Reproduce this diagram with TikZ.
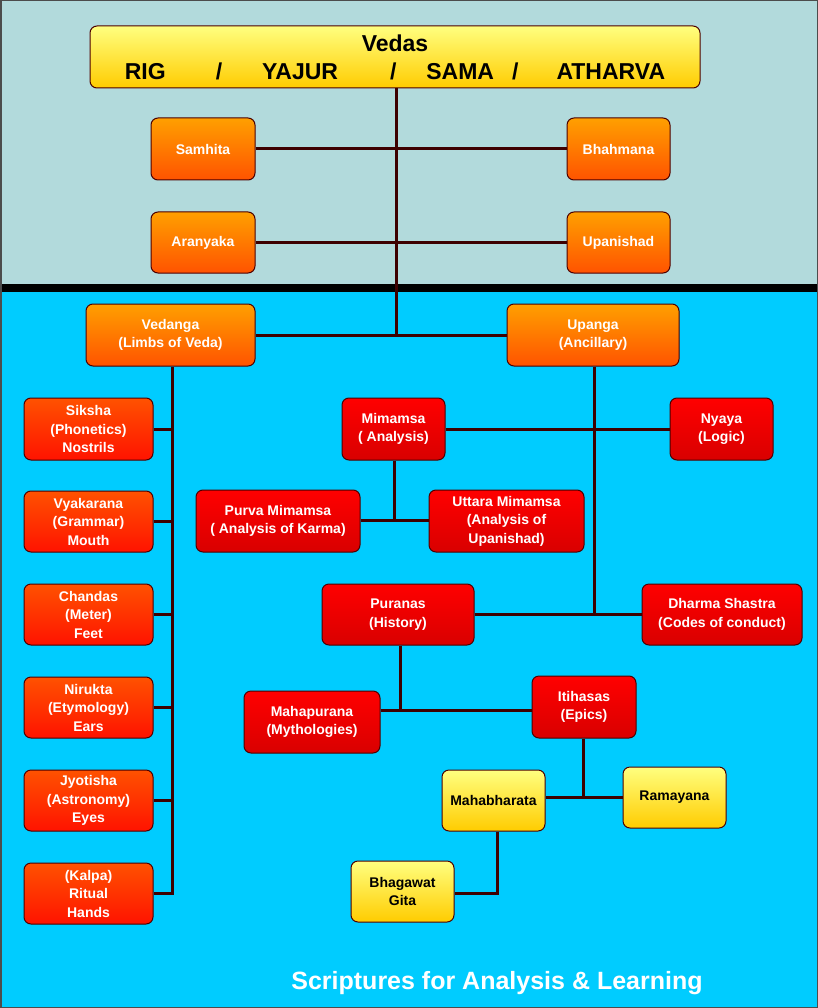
\documentclass[tikz,border=0pt]{standalone}
\usepackage{fontspec}
\setmainfont{Liberation Sans}
\begin{document}
\begin{tikzpicture}[x=1pt,y=-1pt,
  box/.style={draw=black!50!red!60!black, line width=1pt, rounded corners=7pt, align=center, font=\bfseries\fontsize{14}{18.5}\selectfont, inner sep=1pt},
  og/.style={box, top color=orange!75!yellow, bottom color=orange!50!red!90!yellow, text=white},
  rog/.style={box, top color=red!70!orange!80!yellow, bottom color=red!85!orange, text=white},
  rd/.style={box, top color=red, bottom color=red!85!black, text=white},
  yl/.style={box, top color=yellow!50!white, bottom color=yellow!60!orange, text=black},
  ln/.style={draw=black!65!red!70!black, line width=3pt}]
\useasboundingbox (0,0) rectangle (818,1008);
\fill[fill={rgb,255:red,178;green,218;blue,220}] (0,0) rectangle (818,284);
\fill[black] (0,284) rectangle (818,292);
\fill[fill={rgb,255:red,0;green,204;blue,255}] (0,292) rectangle (818,1008);
\draw[black!70, line width=1.5pt] (0.75,0.75) rectangle (817.25,1007.25);
\coordinate (tj) at (396,335);
\coordinate (ua) at (594,614);
\coordinate (mj) at (394,520);
\coordinate (pj) at (400,710);
\coordinate (ej) at (583,797);
\coordinate (gj) at (497,893);
\coordinate (lv) at (172,893);
\node[yl, minimum width=610pt, minimum height=62pt, font=\bfseries\fontsize{23}{28}\selectfont] (vedas) at (395,57) {Vedas\\RIG\hspace{50pt}/\hspace{40pt}YAJUR\hspace{52pt}/\hspace{30pt}SAMA\hspace{18pt}/\hspace{38pt}ATHARVA};
\node[og, minimum width=104pt, minimum height=62pt] (samhita) at (203,149) {Samhita};
\node[og, minimum width=103pt, minimum height=62pt] (bhah) at (618.5,149) {Bhahmana};
\node[og, minimum width=104pt, minimum height=61pt] (aran) at (203,242.5) {Aranyaka};
\node[og, minimum width=103pt, minimum height=61pt] (upan) at (618.5,242.5) {Upanishad};
\node[og, minimum width=169pt, minimum height=62pt] (vedanga) at (170.5,335) {Vedanga\\(Limbs of Veda)};
\node[og, minimum width=172pt, minimum height=62pt] (upanga) at (593,335) {Upanga\\(Ancillary)};
\node[rog, minimum width=129pt, minimum height=62pt] (siksha) at (88.5,429) {Siksha\\(Phonetics)\\Nostrils};
\node[rog, minimum width=129pt, minimum height=61pt] (vyak) at (88.5,521.5) {Vyakarana\\(Grammar)\\Mouth};
\node[rog, minimum width=129pt, minimum height=61pt] (chand) at (88.5,614.5) {Chandas\\(Meter)\\Feet};
\node[rog, minimum width=129pt, minimum height=61pt] (nir) at (88.5,707.5) {Nirukta\\(Etymology)\\Ears};
\node[rog, minimum width=129pt, minimum height=61pt] (jyo) at (88.5,800.5) {Jyotisha\\(Astronomy)\\Eyes};
\node[rog, minimum width=129pt, minimum height=61pt] (kalpa) at (88.5,893.5) {(Kalpa)\\Ritual\\Hands};
\node[rd, minimum width=103pt, minimum height=62pt] (mim) at (393.5,429) {Mimamsa\\( Analysis)};
\node[rd, minimum width=103pt, minimum height=62pt] (nyaya) at (721.5,429) {Nyaya\\(Logic)};
\node[rd, minimum width=164pt, minimum height=62pt] (purva) at (278,521) {Purva Mimamsa\\( Analysis of Karma)};
\node[rd, minimum width=155pt, minimum height=62pt] (uttara) at (506.5,521) {Uttara Mimamsa\\(Analysis of\\Upanishad)};
\node[rd, minimum width=152pt, minimum height=61pt] (puranas) at (398,614.5) {Puranas\\(History)};
\node[rd, minimum width=160pt, minimum height=61pt] (dharma) at (722,614.5) {Dharma Shastra\\(Codes of conduct)};
\node[rd, minimum width=136pt, minimum height=62pt] (maha) at (312,722) {Mahapurana\\(Mythologies)};
\node[rd, minimum width=104pt, minimum height=62pt] (iti) at (584,707) {Itihasas\\(Epics)};
\node[yl, minimum width=103pt, minimum height=61pt] (mbh) at (493.5,800.5) {Mahabharata};
\node[yl, minimum width=103pt, minimum height=61pt] (ram) at (674.5,797.5) {Ramayana};
\node[yl, minimum width=103pt, minimum height=61pt] (gita) at (402.5,891.5) {Bhagawat\\Gita};
\draw[ln] (vedas.south -| tj) -- (tj);
\draw[ln] (samhita) -- (bhah);
\draw[ln] (aran) -- (upan);
\draw[ln] (vedanga) -- (upanga);
\draw[ln] (vedanga.south -| lv) -- (lv) -- (kalpa.east |- lv);
\foreach \n in {siksha,vyak,chand,nir,jyo} \draw[ln] (\n.east) -- (\n.east -| lv);
\draw[ln] (upanga.south -| ua) -- (ua);
\draw[ln] (mim) -- (nyaya);
\draw[ln] (puranas) -- (dharma);
\draw[ln] (mim.south -| mj) -- (mj);
\draw[ln] (purva.east |- mj) -- (uttara.west |- mj);
\draw[ln] (puranas.south -| pj) -- (pj);
\draw[ln] (maha.east |- pj) -- (iti.west |- pj);
\draw[ln] (iti.south -| ej) -- (ej);
\draw[ln] (mbh.east |- ej) -- (ram.west |- ej);
\draw[ln] (mbh.south -| gj) -- (gj) -- (gita.east |- gj);
\node[text=white, font=\bfseries\fontsize{25}{30}\selectfont] (title) at (497,983) {Scriptures for Analysis \& Learning};
\end{tikzpicture}
\end{document}
